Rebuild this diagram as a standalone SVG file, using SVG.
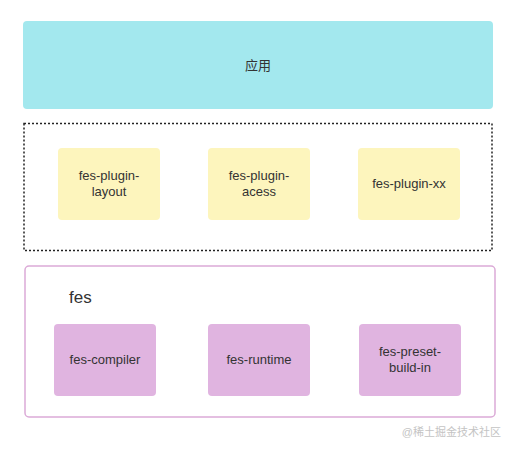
<svg xmlns="http://www.w3.org/2000/svg" width="514" height="451" viewBox="0 0 514 451">
<style>
text{font-family:"Liberation Sans","Noto Sans CJK SC",sans-serif;font-size:13px;fill:#333;text-anchor:middle}
.y{fill:#fdf5bd}
.p{fill:#e0b4e0}
</style>
<rect width="514" height="451" fill="#fff"/>
<g id="app">
<rect x="23" y="21" width="470" height="88" rx="4" fill="#a3e8ee"/>
<text x="258" y="70">应用</text>
</g>
<g id="plugins">
<rect x="24" y="123.5" width="468" height="127" fill="none" stroke="#222" stroke-width="1.5" stroke-dasharray="2,2"/>
</g>
<g id="layout"><rect class="y" x="58" y="148" width="102" height="72" rx="4"/><text x="109" y="180">fes-plugin-</text><text x="109" y="196">layout</text></g>
<g id="acess"><rect class="y" x="208" y="148" width="102" height="72" rx="4"/><text x="259" y="180">fes-plugin-</text><text x="259" y="196">acess</text></g>
<g id="xx"><rect class="y" x="358" y="148" width="102" height="72" rx="4"/><text x="409" y="188">fes-plugin-xx</text></g>
<g id="fes">
<rect x="25" y="266" width="470" height="151" rx="4" fill="#fff" stroke="#dbaad7" stroke-width="1.5"/>
<text x="69" y="303" style="font-size:17px;text-anchor:start">fes</text>
</g>
<g id="compiler"><rect class="p" x="54" y="324" width="102" height="72" rx="4"/><text x="105" y="364">fes-compiler</text></g>
<g id="runtime"><rect class="p" x="208" y="324" width="102" height="72" rx="4"/><text x="259" y="364">fes-runtime</text></g>
<g id="preset"><rect class="p" x="359" y="324" width="102" height="72" rx="4"/><text x="410" y="356">fes-preset-</text><text x="410" y="372">build-in</text></g>
<text x="501" y="436" style="font-size:11px;fill:#c4c4c4;text-anchor:end">@稀土掘金技术社区</text>
<g id="connectors"></g>
</svg>
